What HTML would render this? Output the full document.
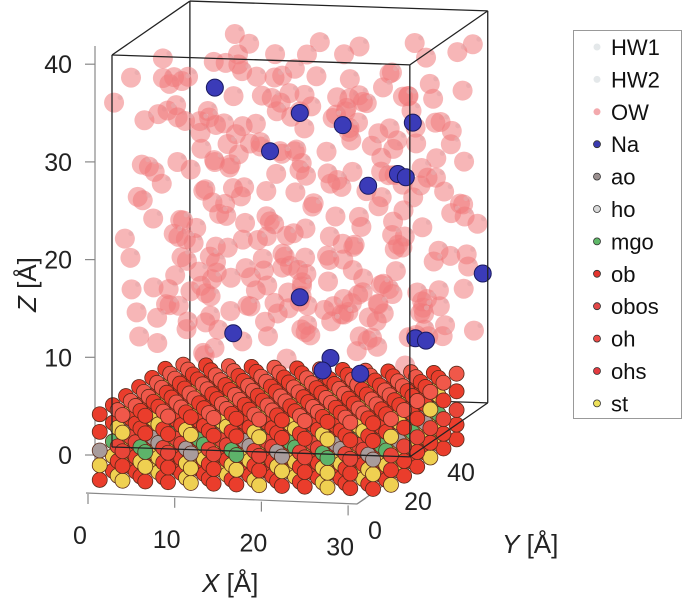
<!DOCTYPE html>
<html><head><meta charset="utf-8"><style>
body{margin:0;background:#fff;}
svg{display:block;font-family:"Liberation Sans",sans-serif;}
</style></head><body>
<svg id="chart" width="685" height="606" viewBox="0 0 685 606">
<g id="axes"></g>
<g id="back"></g>
<g id="marks"></g>
<g id="front"></g>
<g id="legend"></g>
</svg>
<script>
const zTicks=[0,10,20,30,40];
const xTicks=[0,10,20,30];
const yTicks=[0,20,40];
const naX=[11.4,21.1,26.0,34.0,17.7,32.3,33.2,28.9,37.3,21.1,13.5,34.3,35.5,24.6,23.7,28.0];
const naY=[10,10,10,10,10,10,10,10,30,10,10,10,10,10,10,10];
const naZ=[36.5,34.2,33.1,33.6,30.2,28.3,28.0,27.0,15.4,15.4,11.5,11.6,11.4,9.3,8.0,7.8];
const owPts=[
3,5,38,6,20,36,9,30,39,12,4,35,15,15,37,18,33,38,21,8,39,24,22,36,27,3,37,30,28,39,
33,12,36,35,35,38,4,14,33,7,26,31,10,9,32,13,36,34,16,2,31,19,19,33,22,29,32,25,11,34,
28,35,31,31,6,33,34,21,32,2,32,30,5,8,28,8,18,29,11,34,27,14,6,29,17,25,28,20,13,30,
23,37,27,26,4,28,29,16,29,32,30,27,35,10,29,3,20,25,6,3,24,9,28,26,12,13,23,15,37,25,
18,7,24,21,24,26,24,15,23,27,31,25,30,2,24,33,18,26,36,26,23,4,36,22,7,11,21,10,21,23,
13,30,20,16,4,22,19,16,21,22,35,20,25,8,22,28,26,21,31,14,20,34,33,22,2,9,19,5,27,18,
8,2,17,11,18,19,14,33,16,17,10,18,20,28,17,23,3,18,26,20,16,29,36,19,32,7,17,35,24,18,
3,16,15,6,34,14,9,7,13,12,25,15,15,12,14,18,37,13,21,5,15,24,19,14,27,30,13,30,10,15,
33,27,14,36,3,13,4,24,12,7,15,11,10,36,12,13,3,11,16,21,12,19,31,11,22,9,12,25,27,11,
28,18,12,31,36,11,34,8,12,2,28,34,5,12,37,8,36,35,11,23,38,14,8,36,17,31,37,20,17,35,
23,10,38,26,34,35,29,20,37,32,4,38,35,30,34,2,18,27,5,30,30,8,10,33,11,22,30,14,31,32,
17,16,27,20,5,31,23,27,29,26,13,32,29,33,28,32,9,31,35,17,27,3,2,22,6,24,20,9,33,22,
12,8,19,15,20,20,18,30,22,21,13,19,24,36,21,27,6,20,30,22,19,33,33,21,36,14,20,4,28,16,
7,5,15,10,37,17,13,19,13,16,27,16,19,2,14,22,32,15,25,17,13,28,9,16,31,25,14,34,37,15,
36,6,16,2,12,13,5,33,12,8,20,11,11,6,10,14,28,12,17,12,11,20,35,10,23,7,12,26,30,11,
29,14,10,32,24,12,35,2,10,3,26,35,6,17,36,9,37,37,12,8,33,15,24,38,18,12,34,21,32,37,
24,20,33,27,9,36,30,25,34,33,36,37,36,15,33,4,4,26,7,35,27,10,16,28,13,2,26,16,34,29,
19,22,26,22,4,27,25,33,25,28,13,26,31,30,25,34,5,28,2,36,17,5,18,16,8,25,18,11,5,17,
14,34,18,17,19,17,20,9,16,23,28,18,26,37,17,29,17,16,32,3,18,35,32,17,3,9,11,6,31,12,
9,22,10,12,15,13,15,36,11,18,27,12,21,4,10,24,23,13,27,14,11,30,34,12,33,20,11,36,9,12,
5,3,34,8,29,30,11,25,36,14,16,30,19,35,30,22,2,35,25,26,33,28,37,29,31,18,35,34,29,30,
4,37,22,9,4,20,14,24,24,20,35,23,26,10,21,31,23,24,35,31,21,6,11,14,16,31,15,24,14,14,
2,1,36,5,12,39,8,24,37,11,17,38,14,28,35,17,9,36,20,1,37,23,31,38,26,18,35,29,7,36,
32,25,38,35,14,37,3,27,32,6,10,34,9,2,30,12,21,31,15,31,33,18,4,32,21,16,34,24,26,31,
27,9,33,30,37,32,33,3,34,36,20,30,4,6,29,7,17,27,10,36,29,13,12,26,16,23,28,19,32,27,
22,6,29,25,19,27,28,28,29,31,11,28,34,35,26,2,15,24,5,37,25,8,9,23,11,26,24,14,1,25,
17,15,22,20,33,24,23,8,25,26,29,23,29,3,22,32,14,24,35,21,25,3,29,20,6,13,21,9,35,19,
12,5,20,15,18,18,18,26,20,21,2,21,24,12,19,27,36,18,30,17,21,33,6,19,36,33,20,4,1,17,
7,21,16,10,31,15,13,11,17,16,35,14,19,20,15,22,7,16,25,24,14,28,2,15,31,33,16,34,15,14,
37,22,15,3,34,12,6,5,11,9,18,12,12,33,13,15,8,11,18,24,10,21,14,12,24,36,11,27,20,10,
30,5,12,33,30,10,36,16,11,2,22,11,5,36,13,10,11,9,20,30,10,29,4,11,33,18,13,37,27,10,
];
const slabX=[0.6,3.2,5.8,8.4,11.0,13.6,16.2,18.8,21.4,24.0,26.6,29.2,31.8];
const slabY=[0,3.2,6.4,9.6,12.8,16,19.2,22.4,25.6,28.8,32,35.2];
const slabZ=[-2.4,-0.9,0.6,2.5,4.3];
const slabTypes=[["ob","st","ob"],["st","ob"],["ao","oh","mgo","oh"],["ob","st","ob"],["ob","ohs"]];
const legendNames=["HW1","HW2","OW","Na","ao","ho","mgo","ob","obos","oh","ohs","st"];
const legendColors=["#e4e8ea","#e4e8ea","#f3a9ad","#3b3bb0","#9a8f8f","#d8d8d8","#5fb868","#e3352e","#e34848","#ee4a46","#e33a40","#ede05a"];
const typeColor={ob:"#ea3d2c",ohs:"#f0584a",st:"#efd051",ao:"#a89c9c",oh:"#e84538",mgo:"#5db36a"};
const NS="http://www.w3.org/2000/svg";
function P(x,y,z){return [112+(x-2)*8.76+y*2.05, 447+(x-2)*0.29-y*1.42-(z-1)*9.8];}
function zScale(v){return 455-v*9.77;}
function xScale(v){return [88+v*8.67, 493+v*0.38];}
function yScale(v){return [357+v*2.15, 504-v*1.45];}
function el(tag,attrs,parent){const e=document.createElementNS(NS,tag);for(const k in attrs)e.setAttribute(k,attrs[k]);parent.appendChild(e);return e;}
const axes=document.getElementById('axes');
el('line',{x1:95,y1:470,x2:95,y2:46,stroke:'#888','stroke-width':1.2},axes);
zTicks.forEach(t=>{const y=zScale(t);
 const tk=el('line',{x1:85,y1:y,x2:95,y2:y,stroke:'#888','stroke-width':1.2},axes);
 
 
 const tx=el('text',{x:72,y:y+9,'text-anchor':'end','font-size':25,fill:'#222'},axes);tx.textContent=t;
 
 
});
el('line',{x1:86,y1:493,x2:357,y2:504,stroke:'#888','stroke-width':1.2},axes);
xTicks.forEach(t=>{const p=xScale(t);
 const tk=el('line',{x1:p[0],y1:p[1]+1,x2:p[0],y2:p[1]+11,stroke:'#888','stroke-width':1.2},axes);
 
 
 const tx=el('text',{x:p[0]-8,y:p[1]+51,'text-anchor':'middle','font-size':25,fill:'#222'},axes);tx.textContent=t;
 
 
});
el('line',{x1:357,y1:504,x2:454,y2:436,stroke:'#888','stroke-width':1.2},axes);
yTicks.forEach(t=>{const p=yScale(t);
 const tk=el('line',{x1:p[0],y1:p[1],x2:p[0]+9,y2:p[1]-6,stroke:'#888','stroke-width':1.2},axes);
 
 
 const tx=el('text',{x:p[0]+18,y:p[1]+35,'text-anchor':'middle','font-size':25,fill:'#222'},axes);tx.textContent=t;
 
 
});
let t1=el('text',{x:202,y:592,'font-size':26,fill:'#222'},axes);t1.innerHTML='<tspan font-style="italic">X</tspan> [Å]';


let t2=el('text',{x:502,y:553,'font-size':26,fill:'#222'},axes);t2.innerHTML='<tspan font-style="italic">Y</tspan> [Å]';


let t3=el('text',{x:0,y:0,'font-size':26,fill:'#222',transform:'translate(36,312) rotate(-90)'},axes);t3.innerHTML='<tspan font-style="italic">Z</tspan> [Å]';


const B={x0:2,x1:36,y0:0,y1:38,z0:1,z1:41};
function edge(g,a,b,name){const p=P(...a),q=P(...b);const l=el('line',{x1:p[0],y1:p[1],x2:q[0],y2:q[1],stroke:'#222','stroke-width':1.3},g);
 
 }
const back=document.getElementById('back'),front=document.getElementById('front');
edge(back,[B.x0,B.y1,B.z0],[B.x0,B.y1,B.z1],'box-edge');
edge(back,[B.x0,B.y1,B.z0],[B.x1,B.y1,B.z0],'box-edge');
edge(back,[B.x0,B.y0,B.z0],[B.x0,B.y1,B.z0],'box-edge');
edge(front,[B.x0,B.y0,B.z0],[B.x0,B.y0,B.z1],'box-edge');
edge(front,[B.x1,B.y0,B.z0],[B.x1,B.y0,B.z1],'box-edge');
edge(front,[B.x1,B.y1,B.z0],[B.x1,B.y1,B.z1],'box-edge');
edge(front,[B.x0,B.y0,B.z1],[B.x1,B.y0,B.z1],'box-edge');
edge(front,[B.x0,B.y1,B.z1],[B.x1,B.y1,B.z1],'box-edge');
edge(front,[B.x0,B.y0,B.z1],[B.x0,B.y1,B.z1],'box-edge');
edge(front,[B.x1,B.y0,B.z1],[B.x1,B.y1,B.z1],'box-edge');
edge(front,[B.x0,B.y0,B.z0],[B.x1,B.y0,B.z0],'box-edge');
edge(front,[B.x1,B.y0,B.z0],[B.x1,B.y1,B.z0],'box-edge');
const marks=document.getElementById('marks');
for(let i=0;i<owPts.length;i+=3){const p=P(owPts[i],owPts[i+1],owPts[i+2]);
 const h=el('circle',{cx:p[0]+6,cy:p[1]-5,r:2.5,fill:'#dde3e5',opacity:0.7},marks);
 
 
 const c=el('circle',{cx:p[0],cy:p[1],r:10,fill:'#f07a7c','fill-opacity':0.55},marks);
 
 
}
const slab=[];
slabZ.forEach((z,li)=>slabY.forEach((y,yi)=>slabX.forEach((x,xi)=>{
 const types=slabTypes[li];const t=types[(xi+yi)%types.length];
 slab.push({x:x+(yi%2)*1.3,y,z,t});})));
slab.sort((a,b)=>(b.y-a.y)||(a.z-b.z));
slab.forEach(a=>{const p=P(a.x,a.y,a.z);
 const c=el('circle',{cx:p[0],cy:p[1],r:7.5,fill:typeColor[a.t],stroke:'#5a2a1a','stroke-width':0.8},marks);
 
 
});
naX.forEach((x,i)=>{const p=P(x,naY[i],naZ[i]);
 const c=el('circle',{cx:p[0],cy:p[1],r:8.5,fill:'#3b3bb8',stroke:'#1a1a60','stroke-width':1},marks);
 
 
});
const lg=document.getElementById('legend');
const bx=el('rect',{x:573.5,y:30.5,width:108,height:388,fill:'#fff',stroke:'#999','stroke-width':1},lg);


legendNames.forEach((n,i)=>{const y=47+i*32.4;
 const g=el('g',{},lg);
 
 
 el('circle',{cx:597,cy:y,r:3.5,fill:legendColors[i],stroke:i<3?'none':'#333','stroke-width':0.8},g);
 const t=el('text',{x:611,y:y+8,'font-size':22,fill:'#111'},g);t.textContent=n;
});
</script>
</body></html>
